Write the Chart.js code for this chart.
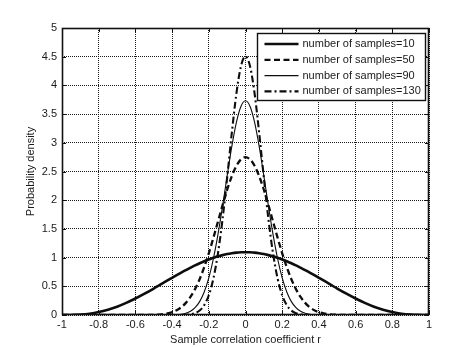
<!DOCTYPE html>
<html><head><meta charset="utf-8">
<script src="https://cdn.jsdelivr.net/npm/chart.js@4.4.0/dist/chart.umd.min.js"></script>
<style>html,body{margin:0;padding:0;background:#fff;overflow:hidden;}</style>
</head><body>
<canvas id="c" width="474" height="347"></canvas>
<script>
// sample correlation coefficient r (x positions of samples)
const rValues = [-1,-0.95,-0.9,-0.85,-0.8,-0.75,-0.7,-0.65,-0.6,-0.55,
  -0.5,-0.475,-0.45,-0.425,-0.4,-0.375,-0.35,-0.325,-0.3,-0.275,-0.25,-0.225,-0.2,-0.175,-0.15,-0.125,-0.1,-0.075,-0.05,-0.025,
  0,
  0.025,0.05,0.075,0.1,0.125,0.15,0.175,0.2,0.225,0.25,0.275,0.3,0.325,0.35,0.375,0.4,0.425,0.45,0.475,0.5,
  0.55,0.6,0.65,0.7,0.75,0.8,0.85,0.9,0.95,1];

// probability density
const density10 = [0,0.001,0.0075,0.023,0.051,0.092,0.145,0.211,0.287,0.371,
  0.461,0.508,0.555,0.602,0.648,0.694,0.739,0.783,0.824,0.864,0.901,0.936,0.968,0.996,1.022,1.043,1.061,1.075,1.086,1.092,
  1.094,
  1.092,1.086,1.075,1.061,1.043,1.022,0.996,0.968,0.936,0.901,0.864,0.824,0.783,0.739,0.694,0.648,0.602,0.555,0.508,0.461,
  0.371,0.287,0.211,0.145,0.092,0.051,0.023,0.0075,0.001,0];
const density50 = [0,0,0,0,0,0,0,0,0,0.001,
  0.004,0.008,0.015,0.028,0.050,0.084,0.136,0.211,0.314,0.451,0.623,0.833,1.075,1.345,1.629,1.914,2.182,2.415,2.596,2.711,
  2.750,
  2.711,2.596,2.415,2.182,1.914,1.629,1.345,1.075,0.833,0.623,0.451,0.314,0.211,0.136,0.084,0.050,0.028,0.015,0.008,0.004,
  0.001,0,0,0,0,0,0,0,0,0];
const density90 = [0,0,0,0,0,0,0,0,0,0,
  0,0,0,0.001,0.002,0.006,0.014,0.031,0.065,0.127,0.233,0.400,0.645,0.980,1.403,1.896,2.423,2.928,3.351,3.633,
  3.732,
  3.633,3.351,2.928,2.423,1.896,1.403,0.980,0.645,0.400,0.233,0.127,0.065,0.031,0.014,0.006,0.002,0.001,0,0,0,
  0,0,0,0,0,0,0,0,0,0];
const density130 = [0,0,0,0,0,0,0,0,0,0,
  0,0,0,0,0,0,0.001,0.004,0.012,0.032,0.077,0.171,0.344,0.635,1.074,1.670,2.392,3.158,3.848,4.331,
  4.505,
  4.331,3.848,3.158,2.392,1.670,1.074,0.635,0.344,0.171,0.077,0.032,0.012,0.004,0.001,0,0,0,0,0,0,
  0,0,0,0,0,0,0,0,0,0];

const seriesLabels = ['number of samples=10','number of samples=50','number of samples=90','number of samples=130'];
const xTicks = [-1,-0.8,-0.6,-0.4,-0.2,0,0.2,0.4,0.6,0.8,1];
const yTicks = [0,0.5,1,1.5,2,2.5,3,3.5,4,4.5,5];
const xTitle = 'Sample correlation coefficient r';
const yTitle = 'Probability density';

const FONT = "'Liberation Sans', Arial, Helvetica, sans-serif";
Chart.defaults.font.family = FONT;
Chart.defaults.font.size = 11;
Chart.defaults.color = '#1a1a1a';

function pts(ys){ return rValues.map((r,i)=>({x:r,y:ys[i]})); }

const styles = [
  {borderWidth:2.6, borderDash:[]},
  {borderWidth:2.3, borderDash:[6,3.5]},
  {borderWidth:1.1, borderDash:[]},
  {borderWidth:2.1, borderDash:[7,3,2,3]}
];
const allSeries = [density10, density50, density90, density130];

const datasets = allSeries.map((ys,i)=>({
  label: seriesLabels[i],
  data: pts(ys),
  borderColor:'#0d0d0d',
  backgroundColor:'#0d0d0d',
  borderWidth: styles[i].borderWidth,
  borderDash: styles[i].borderDash,
  pointRadius:0,
  fill:false,
  cubicInterpolationMode:'monotone'
}));

const framePlugin = {
  id:'frame',
  afterDraw(chart){
    const {ctx, chartArea:a, scales} = chart;
    ctx.save();
    ctx.strokeStyle = '#111'; ctx.lineWidth = 1; ctx.setLineDash([]);
    const L = Math.round(a.left), R = Math.round(a.right), T = Math.round(a.top), B = Math.round(a.bottom);
    // inward tick marks
    ctx.beginPath();
    xTicks.forEach(v=>{ const px = Math.round(scales.x.getPixelForValue(v))+0.5;
      ctx.moveTo(px,B); ctx.lineTo(px,B-4); ctx.moveTo(px,T); ctx.lineTo(px,T+4); });
    yTicks.forEach(v=>{ const py = Math.round(scales.y.getPixelForValue(v))+0.5;
      ctx.moveTo(L,py); ctx.lineTo(L+4,py); ctx.moveTo(R,py); ctx.lineTo(R-4,py); });
    ctx.stroke();
    ctx.lineWidth = 1.6;
    ctx.strokeRect(L+0.5, T+0.5, R-L-1, B-T-1);
    // legend box
    const bx = 257.5, by = 33.5, bw = 168, bh = 67;
    ctx.fillStyle = '#fff';
    ctx.fillRect(bx, by, bw, bh);
    ctx.strokeStyle = '#111'; ctx.lineWidth = 1.4;
    ctx.strokeRect(bx, by, bw, bh);
    ctx.font = '11px ' + FONT;
    ctx.textBaseline = 'middle';
    ctx.textAlign = 'left';
    chart.data.datasets.forEach((ds,i)=>{
      const y = by + 10.5 + i*15.8;
      ctx.save();
      ctx.strokeStyle = ds.borderColor;
      ctx.lineWidth = ds.borderWidth;
      ctx.setLineDash(ds.borderDash || []);
      ctx.beginPath(); ctx.moveTo(bx+7, y); ctx.lineTo(bx+41, y); ctx.stroke();
      ctx.restore();
      ctx.fillStyle = '#1a1a1a';
      ctx.fillText(ds.label, bx+45, y);
    });
    ctx.restore();
  }
};

new Chart(document.getElementById('c'), {
  type:'line',
  data:{datasets},
  options:{
    responsive:false,
    animation:false,
    devicePixelRatio:1,
    layout:{padding:{left:0,right:45,top:28,bottom:0}},
    plugins:{legend:{display:false}, tooltip:{enabled:false}},
    scales:{
      x:{
        type:'linear', min:-1, max:1,
        afterBuildTicks(s){ s.ticks = xTicks.map(v=>({value:v})); },
        afterFit(s){ s.height = 32; },
        ticks:{autoSkip:false, maxRotation:0, padding:3, callback:(v)=>String(v)},
        grid:{color:'#1a1a1a', lineWidth:1, drawTicks:false},
        border:{display:false, dash:[1,1]},
        title:{display:true, text:xTitle, padding:{top:0,bottom:0}, font:{size:11}}
      },
      y:{
        type:'linear', min:0, max:5,
        afterBuildTicks(s){ s.ticks = yTicks.map(v=>({value:v})); },
        afterFit(s){ s.width = 62; },
        ticks:{autoSkip:false, padding:5, callback:(v)=>String(v)},
        grid:{color:'#1a1a1a', lineWidth:1, drawTicks:false},
        border:{display:false, dash:[1,1]},
        title:{display:true, text:yTitle, padding:{top:24,bottom:0}, font:{size:11}}
      }
    }
  },
  plugins:[framePlugin]
});
</script>
</body></html>
